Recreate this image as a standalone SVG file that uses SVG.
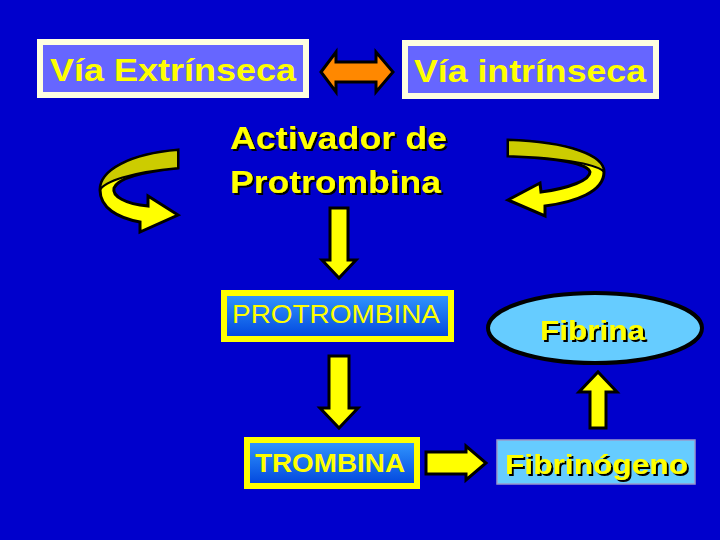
<svg xmlns="http://www.w3.org/2000/svg" width="720" height="540" viewBox="0 0 720 540">
<defs>
<linearGradient id="bg" x1="0" y1="0" x2="0" y2="1"><stop offset="0" stop-color="#3399FF"/><stop offset="1" stop-color="#0044DD"/></linearGradient>
<filter id="ds" x="-10%" y="-10%" width="130%" height="140%"><feDropShadow dx="2" dy="2" stdDeviation="0.5" flood-color="#000"/></filter>
<style>
.t{font-family:"Liberation Sans",Arial,sans-serif;fill:#FFFF00}
.b{font-weight:bold}
.arr{fill:#FFFF00;stroke:#000;stroke-width:3;stroke-linejoin:miter}
</style>
</defs>
<rect width="720" height="540" fill="#0000CC"/>
<g id="connectors">
<path d="M321,72 L336,52 L336,62 L376,62 L376,52 L393,72 L376,92 L376,82 L336,82 L336,92 Z" fill="#FF8800" stroke="#000" stroke-width="3"/>
<path class="arr" d="M330,208 L348,208 L348,260 L356,260 L339,278 L322,260 L330,260 Z"/>
<path class="arr" d="M329,356 L349,356 L349,408 L358,408 L339,428 L320,408 L329,408 Z"/>
<path class="arr" d="M426,452 L466,452 L466,446 L486,463 L466,480 L466,474 L426,474 Z"/>
<path class="arr" d="M590,428 L606,428 L606,392 L617,392 L598,372 L579,392 L590,392 Z"/>
<path d="M178,150 C130,154 100,170 100,190 C100,208 118,218 140,222 L140,232 L178,215 L148,196 L148,206 C125,204 112,196 114,188 C118,178 140,172 178,168 Z" fill="#FFFF00" stroke="#000" stroke-width="3"/>
<path d="M178,150 C130,154 100,170 100,190 C104,182 130,172 178,168 Z" fill="#CCCC00" stroke="#000" stroke-width="2"/>
<path d="M508,140 C570,142 604,156 604,172 C604,192 575,202 545,206 L545,216 L508,200 L540,183 L541,192 C570,188 590,180 590,172 C588,164 560,158 508,156 Z" fill="#FFFF00" stroke="#000" stroke-width="3"/>
<path d="M508,140 C570,142 604,156 604,172 C600,166 570,158 508,156 Z" fill="#CCCC00" stroke="#000" stroke-width="2"/>
</g>
<g id="via-extrinseca">
<rect x="40" y="42" width="266" height="53" fill="#6666FF" stroke="#FFFFE0" stroke-width="6"/>
<text class="t b" x="50" y="81" font-size="31" textLength="246" lengthAdjust="spacingAndGlyphs">Vía Extrínseca</text>
</g>
<g id="via-intrinseca">
<rect x="405" y="43" width="251" height="53" fill="#6666FF" stroke="#FFFFE0" stroke-width="6"/>
<text class="t b" x="414" y="82" font-size="31" textLength="232" lengthAdjust="spacingAndGlyphs">Vía intrínseca</text>
</g>
<g id="activador" filter="url(#ds)">
<text class="t b" x="230" y="149" font-size="32" textLength="217" lengthAdjust="spacingAndGlyphs">Activador de</text>
<text class="t b" x="230" y="193" font-size="32" textLength="211" lengthAdjust="spacingAndGlyphs">Protrombina</text>
</g>
<g id="protrombina">
<rect x="224" y="293" width="227" height="46" fill="url(#bg)" stroke="#FFFF00" stroke-width="6"/>
<text class="t" x="232" y="323" font-size="26" textLength="208" lengthAdjust="spacingAndGlyphs">PROTROMBINA</text>
</g>
<g id="trombina">
<rect x="247" y="440" width="170" height="46" fill="url(#bg)" stroke="#FFFF00" stroke-width="6"/>
<text class="t b" x="255" y="472" font-size="25" textLength="150" lengthAdjust="spacingAndGlyphs">TROMBINA</text>
</g>
<g id="fibrinogeno">
<rect x="497" y="440" width="198" height="44" fill="#66CCFF" stroke="#9999CC" stroke-width="1.5"/>
<text class="t b" x="505" y="474" font-size="28" textLength="183" lengthAdjust="spacingAndGlyphs" filter="url(#ds)">Fibrinógeno</text>
</g>
<g id="fibrina">
<ellipse cx="595" cy="328" rx="107" ry="35" fill="#66CCFF" stroke="#000" stroke-width="4"/>
<text class="t b" x="540" y="340" font-size="28" textLength="105" lengthAdjust="spacingAndGlyphs" filter="url(#ds)">Fibrina</text>
</g>
</svg>
